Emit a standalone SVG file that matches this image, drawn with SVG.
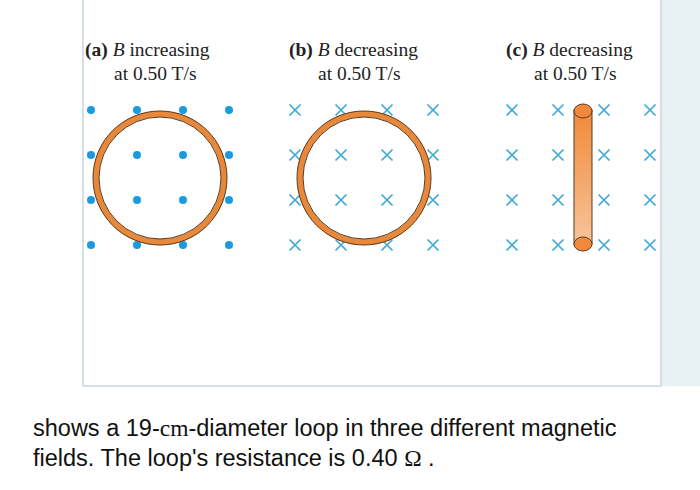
<svg xmlns="http://www.w3.org/2000/svg" width="700" height="490" viewBox="0 0 700 490">
<defs>
<style>
.t{font-family:"Liberation Serif",serif;font-size:19.5px;fill:#222}
.b{font-weight:bold}
.x{stroke:#3fa9d8;stroke-width:1.7;fill:none}
.d{fill:#1a9ae0}
.loop{fill:none;stroke:#e8883a;stroke-width:6}
.edge{fill:none;stroke:#5a3a20;stroke-width:1}
.cap{font-family:"Liberation Sans",sans-serif;font-size:23.5px;fill:#111}
</style>
<path id="xm" class="x" d="M-5.5,-5.5L5.5,5.5M5.5,-5.5L-5.5,5.5"/>
<linearGradient id="rod" x1="0" y1="0" x2="0" y2="1"><stop offset="0" stop-color="#f08a3a"/><stop offset="1" stop-color="#f8c49a"/></linearGradient>
</defs>
<rect width="700" height="490" fill="#fff"/>
<rect x="661" y="0" width="39" height="386" fill="#e8f2f5"/>
<rect x="83" y="-2" width="578" height="388" fill="#fff" stroke="#c7d6de" stroke-width="1.5"/>
<g id="a">
<text class="t" x="85" y="56"><tspan class="b">(a)</tspan> <tspan font-style="italic">B</tspan> increasing</text>
<text class="t" x="114" y="80">at 0.50 T/s</text>
<g class="d">
<circle cx="91" cy="110" r="4"/><circle cx="137" cy="110" r="4"/><circle cx="183" cy="110" r="4"/><circle cx="229" cy="110" r="4"/>
<circle cx="91" cy="155" r="4"/><circle cx="137" cy="155" r="4"/><circle cx="183" cy="155" r="4"/><circle cx="229" cy="155" r="4"/>
<circle cx="91" cy="200" r="4"/><circle cx="137" cy="200" r="4"/><circle cx="183" cy="200" r="4"/><circle cx="229" cy="200" r="4"/>
<circle cx="91" cy="245" r="4"/><circle cx="137" cy="245" r="4"/><circle cx="183" cy="245" r="4"/><circle cx="229" cy="245" r="4"/>
</g>
<circle class="loop" cx="160" cy="178" r="64"/>
<circle class="edge" cx="160" cy="178" r="67"/><circle class="edge" cx="160" cy="178" r="61"/>
</g>
<g id="b">
<text class="t" x="289" y="56"><tspan class="b">(b)</tspan> <tspan font-style="italic">B</tspan> decreasing</text>
<text class="t" x="318" y="80">at 0.50 T/s</text>
<use href="#xm" x="295" y="110"/><use href="#xm" x="341" y="110"/><use href="#xm" x="387" y="110"/><use href="#xm" x="433" y="110"/>
<use href="#xm" x="295" y="155"/><use href="#xm" x="341" y="155"/><use href="#xm" x="387" y="155"/><use href="#xm" x="433" y="155"/>
<use href="#xm" x="295" y="200"/><use href="#xm" x="341" y="200"/><use href="#xm" x="387" y="200"/><use href="#xm" x="433" y="200"/>
<use href="#xm" x="295" y="245"/><use href="#xm" x="341" y="245"/><use href="#xm" x="387" y="245"/><use href="#xm" x="433" y="245"/>
<circle class="loop" cx="364" cy="178" r="64"/>
<circle class="edge" cx="364" cy="178" r="67"/><circle class="edge" cx="364" cy="178" r="61"/>
</g>
<g id="c">
<text class="t" x="506" y="56"><tspan class="b">(c)</tspan> <tspan font-style="italic">B</tspan> decreasing</text>
<text class="t" x="534" y="80">at 0.50 T/s</text>
<use href="#xm" x="512" y="110"/><use href="#xm" x="558" y="110"/><use href="#xm" x="604" y="110"/><use href="#xm" x="650" y="110"/>
<use href="#xm" x="512" y="155"/><use href="#xm" x="558" y="155"/><use href="#xm" x="604" y="155"/><use href="#xm" x="650" y="155"/>
<use href="#xm" x="512" y="200"/><use href="#xm" x="558" y="200"/><use href="#xm" x="604" y="200"/><use href="#xm" x="650" y="200"/>
<use href="#xm" x="512" y="245"/><use href="#xm" x="558" y="245"/><use href="#xm" x="604" y="245"/><use href="#xm" x="650" y="245"/>
<rect x="574" y="110" width="18" height="134" fill="url(#rod)" stroke="#5a3a20" stroke-width="1"/>
<ellipse cx="583" cy="111" rx="9" ry="7" fill="#f08a3a" stroke="#5a3a20" stroke-width="1"/>
<ellipse cx="583" cy="244" rx="9" ry="7" fill="#f08a3a" stroke="#5a3a20" stroke-width="1"/>
</g>
<text class="cap" x="33" y="436">shows a 19-<tspan font-family="'Liberation Serif',serif">cm</tspan>-diameter loop in three different magnetic</text>
<text class="cap" x="33" y="466">fields. The loop's resistance is 0.40 <tspan font-family="'Liberation Serif',serif">Ω</tspan> .</text>
</svg>
